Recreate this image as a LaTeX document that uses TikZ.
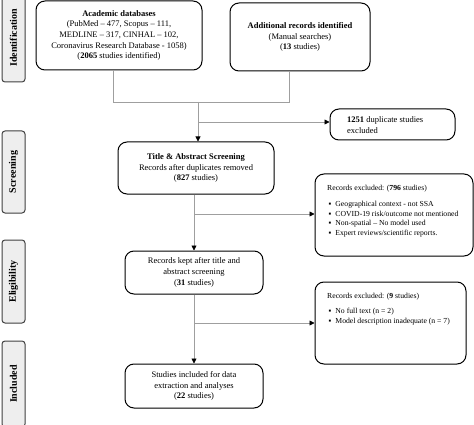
\documentclass[tikz,border=0pt]{standalone}
\usepackage{fontspec}
\setmainfont{Liberation Serif}
\usetikzlibrary{arrows.meta}
\begin{document}
\begin{tikzpicture}[x=1pt,y=-1pt,
 box/.style={draw=black, line width=1pt, rounded corners=9pt, fill=white, inner sep=0pt},
 sidebox/.style={draw=gray!50!black, line width=1pt, fill=gray!13, rounded corners=3pt, minimum width=23pt, inner sep=0pt},
 sidetxt/.style={rotate=90, font=\bfseries\fontsize{10}{12}\selectfont},
 link/.style={draw=gray!75, line width=0.8pt},
 arr/.style={link, -{Triangle[length=5pt,width=5pt,color=black]}},
 main/.style={font=\fontsize{8.5}{10.6}\selectfont, align=center},
 small/.style={font=\fontsize{7.7}{9.6}\selectfont, align=left, inner sep=0pt},
]
\useasboundingbox (0,0) rectangle (474,425);

% side labels
\node[sidebox, minimum height=88pt] (sid) at (13.5,38) {};
\node[sidetxt] (sidt) at (sid.center) {Identification};
\node[sidebox, minimum height=82pt] (sscr) at (13.5,172) {};
\node[sidetxt] (sscrt) at (sscr.center) {Screening};
\node[sidebox, minimum height=83pt] (selig) at (13.5,281.5) {};
\node[sidetxt] (seligt) at (selig.center) {Eligibility};
\node[sidebox, minimum height=86pt] (sinc) at (13.5,384) {};
\node[sidetxt] (sinct) at (sinc.center) {Included};

% main boxes
\node[box, main, minimum width=166pt, minimum height=69pt] (acad) at (119,35.5)
 {\textbf{Academic databases}\\(PubMed – 477, Scopus – 111,\\MEDLINE – 317, CINHAL – 102,\\Coronavirus Research Database - 1058)\\(\textbf{2065} studies identified)};
\node[box, main, minimum width=140pt, minimum height=68pt] (addl) at (300,37)
 {\textbf{Additional records identified}\\(Manual searches)\\(\textbf{13} studies)};
\node[box, minimum width=125pt, minimum height=31pt] (dup) at (392.5,124.5) {};
\node[main, align=left, anchor=west, inner sep=0pt] (dupt) at (347,125)
 {\textbf{1251} duplicate studies\\excluded};
\node[box, main, minimum width=156pt, minimum height=52pt] (title) at (196,168)
 {\textbf{Title \& Abstract Screening}\\Records after duplicates removed\\(\textbf{827} studies)};
\node[box, minimum width=158pt, minimum height=82pt] (ex1) at (394,215) {};
\node[small, anchor=north west] (ex1t) at (327,184.5)
 {Records excluded: (\textbf{796} studies)\\[7pt]
  \hspace*{1.5pt}▪\hspace{4pt}Geographical context - not SSA\\
  \hspace*{1.5pt}▪\hspace{4pt}COVID-19 risk/outcome not mentioned\\
  \hspace*{1.5pt}▪\hspace{4pt}Non-spatial – No model used\\
  \hspace*{1.5pt}▪\hspace{4pt}Expert reviews/scientific reports.};
\node[box, main, minimum width=138pt, minimum height=43pt] (kept) at (194,272.5)
 {Records kept after title and\\abstract screening\\(\textbf{31} studies)};
\node[box, minimum width=151pt, minimum height=82pt] (ex2) at (390.5,323) {};
\node[small, anchor=north west] (ex2t) at (327,292.5)
 {Records excluded: (\textbf{9} studies)\\[6pt]
  \hspace*{1.5pt}▪\hspace{4pt}No full text (n = 2)\\
  \hspace*{1.5pt}▪\hspace{4pt}Model description inadequate (n = 7)};
\node[box, main, minimum width=138pt, minimum height=44pt] (incl) at (194,386)
 {Studies included for data\\extraction and analyses\\(\textbf{22} studies)};

% connectors
\coordinate (m1) at (113,102);
\coordinate (m2) at (289,102);
\coordinate (m0) at (198,102);
\coordinate (b1) at (198,122);
\coordinate (b2) at (194,214);
\coordinate (b3) at (194,323);
\draw[link] (acad.south -| m1) -- (m1) -- (m2) -- (addl.south -| m2);
\draw[arr] (m0) -- (title.north -| m0);
\draw[arr] (b1) -- (dup.west |- b1);
\draw[arr] (title.south -| b2) -- (kept.north -| b2);
\draw[arr] (b2) -- (ex1.west |- b2);
\draw[arr] (kept.south -| b3) -- (incl.north -| b3);
\draw[arr] (b3) -- (ex2.west |- b3);
\end{tikzpicture}
\end{document}
